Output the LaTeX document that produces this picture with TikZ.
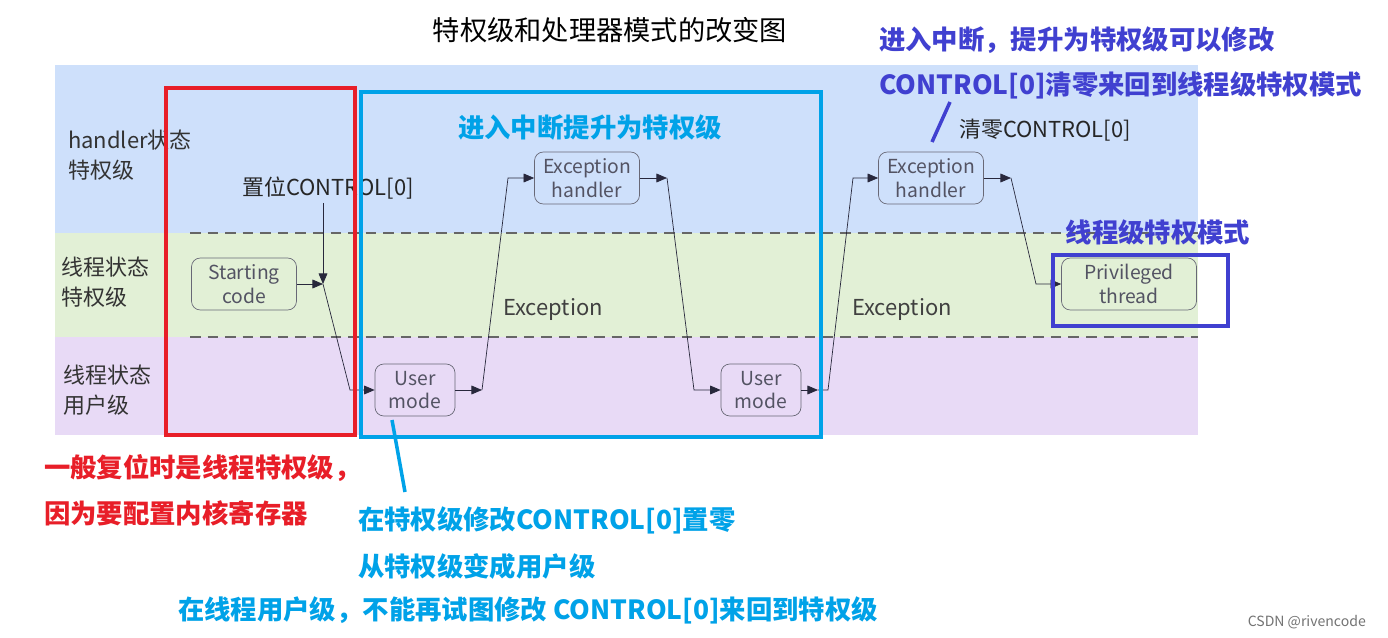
\documentclass[tikz,border=0pt]{standalone}
\usepackage{fontspec}
\setmainfont{Noto Sans CJK SC}
\usetikzlibrary{arrows.meta, positioning}
\definecolor{bandblue}{RGB}{206,224,251}
\definecolor{bandgreen}{RGB}{226,240,214}
\definecolor{bandpurple}{RGB}{232,218,246}
\definecolor{notered}{RGB}{232,30,40}
\definecolor{notecyan}{RGB}{0,162,232}
\definecolor{noteblue}{RGB}{64,64,208}
\definecolor{flowdark}{RGB}{40,40,60}
\tikzset{
  mode/.style={draw=flowdark!70, rounded corners=5pt, minimum width=2.1cm, minimum height=1.04cm, font=\fontsize{11}{13.5}\selectfont, align=center, text=flowdark!80},
  flow/.style={-{Triangle[length=6pt,width=5pt]}, flowdark},
  lane/.style={align=left, anchor=west, font=\fontsize{12.5}{17}\selectfont, text=black!80},
  note/.style={anchor=west, font=\fontsize{15}{17}\selectfont\bfseries}
}
\begin{document}
\begin{tikzpicture}[x=0.02cm, y=-0.02cm]
    \useasboundingbox (0,0) rectangle (1388,638);
    \fill[white] (0,0) rectangle (1388,638);
    % bands
    \fill[bandblue] (55,65) rectangle (1198,233);
    \fill[bandgreen] (55,233) rectangle (1198,337);
    \fill[bandpurple] (55,337) rectangle (1198,435);
    \draw[dashed, thick, black!60, dash pattern=on 6pt off 4pt] (190,233) -- (1198,233);
    \draw[dashed, thick, black!60, dash pattern=on 6pt off 4pt] (190,337) -- (1198,337);
    \node[font=\fontsize{15.5}{18}\selectfont] (title) at (610,30) {特权级和处理器模式的改变图};
    \node[lane] (laneH) at (62,155) {handler状态\\特权级};
    \node[lane] (laneP) at (55,282) {线程状态\\特权级};
    \node[lane] (laneU) at (57,390) {线程状态\\用户级};
    % modes
    \node[mode, fill=bandgreen] (start) at (244,284) {Starting\\code};
    \node[mode, fill=bandpurple, minimum width=1.6cm] (user1) at (415,390) {User\\mode};
    \node[mode, fill=bandblue] (exc1) at (587,178) {Exception\\handler};
    \node[mode, fill=bandpurple, minimum width=1.6cm] (user2) at (761,390) {User\\mode};
    \node[mode, fill=bandblue] (exc2) at (931,178) {Exception\\handler};
    \node[mode, fill=bandgreen, minimum width=2.7cm] (priv) at (1129,284) {Privileged\\thread};
    % transitions
    \coordinate (t1) at (323,284);
    \coordinate (t2) at (482,390);
    \coordinate (t3) at (667,178);
    \coordinate (t4) at (818,390);
    \coordinate (t5) at (1011,178);
    \draw[flow] (start) -- (t1);
    \draw[flow] (t1) -- (350,390) -- (user1);
    \draw[flow] (user1) -- (t2);
    \draw[flow] (t2) -- (508,178) -- (exc1);
    \draw[flow] (exc1) -- (t3);
    \draw[flow] (t3) -- (694,390) -- (user2);
    \draw[flow] (user2) -- (t4);
    \draw[flow] (t4) -- (828,390) -- (853,178) -- (exc2);
    \draw[flow] (exc2) -- (t5);
    \draw[flow] (t5) -- (1036,284) -- (priv);
    \node[font=\fontsize{12.5}{14}\selectfont, text=black!85] (setbit) at (328,188) {置位CONTROL[0]};
    \draw[flow] (323,203) -- (t1);
    \node[font=\fontsize{12.5}{14}\selectfont, text=black!75] (exclab1) at (553,310) {Exception};
    \node[font=\fontsize{12.5}{14}\selectfont, text=black!75] (exclab2) at (902,310) {Exception};
    \node[font=\fontsize{12.5}{14}\selectfont, text=black!85] (clrbit) at (1045,130) {清零CONTROL[0]};
    % annotations
    \draw[notered, line width=2.2pt] (166,88) rectangle (355,435);
    \draw[notecyan, line width=2.2pt] (361,92) rectangle (821,437);
    \draw[noteblue, line width=2.2pt] (1053,255) rectangle (1228,326);
    \node[note, notecyan, anchor=center] (upcyan) at (590,128) {进入中断提升为特权级};
    \node[note, notered] (red1) at (38,468) {一般复位时是线程特权级，};
    \node[note, notered] (red2) at (38,513) {因为要配置内核寄存器};
    \node[note, notecyan] (cy1) at (352,520) {在特权级修改CONTROL[0]置零};
    \node[note, notecyan] (cy2) at (352,566) {从特权级变成用户级};
    \node[note, notecyan] (cy3) at (172,610) {在线程用户级，不能再试图修改 CONTROL[0]来回到特权级};
    \draw[notecyan, line width=2pt] (392,420) -- (405,492);
    \node[note, noteblue] (bl1) at (873,40) {进入中断，提升为特权级可以修改};
    \node[note, noteblue] (bl2) at (873,85) {CONTROL[0]清零来回到线程级特权模式};
    \draw[noteblue, line width=2pt] (950,102) -- (932,142);
    \node[note, noteblue, anchor=center] (bl3) at (1158,232) {线程级特权模式};
    \node[font=\fontsize{8}{10}\selectfont, text=black!55, anchor=east] (mark) at (1372,622) {CSDN @rivencode};
\end{tikzpicture}
\end{document}
